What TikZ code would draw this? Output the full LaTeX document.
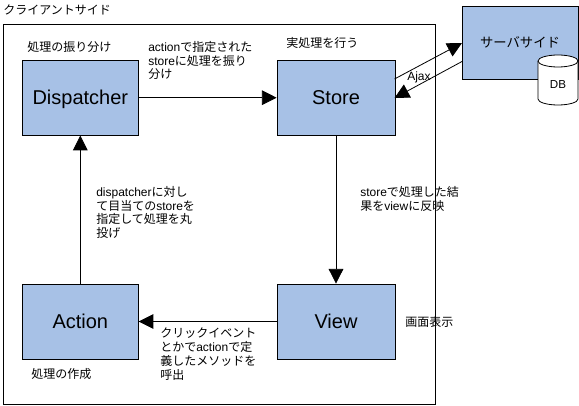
\documentclass[tikz,border=0pt]{standalone}
\usepackage{fontspec}
\setmainfont{Liberation Sans}
\newfontfamily\jpfont{Noto Sans CJK JP}
\newcommand{\J}[1]{{\jpfont #1}}
\usetikzlibrary{arrows.meta}
\definecolor{boxblue}{HTML}{A7C1E6}
\tikzset{
 box/.style={draw=black,fill=boxblue,line width=0.6pt,inner sep=0pt,minimum height=56.25pt,text height=10.7pt,text depth=0pt,font=\fontsize{15pt}{17pt}\selectfont},
 lab/.style={font=\fontsize{9pt}{10.3pt}\selectfont,align=left,anchor=north west,inner sep=0pt},
 conn/.style={draw=black,line width=0.6pt,-{Triangle[length=11pt,width=11pt]}},
}
\begin{document}
\begin{tikzpicture}[x=0.75pt,y=-0.75pt]
\useasboundingbox (0,0) rectangle (579,406);
\node[draw=black,line width=0.6pt,minimum width=324pt,minimum height=285pt,inner sep=0pt] (client) at (219.5,214.5) {};
\node[box,minimum width=87pt] (disp) at (80.3,97.7) {Dispatcher};
\node[box,minimum width=88.5pt] (store) at (336,97.7) {Store};
\node[box,minimum width=87pt] (action) at (80.3,321.5) {Action};
\node[box,minimum width=88.5pt] (view) at (336,321.5) {View};
\node[box,minimum width=87pt,minimum height=55pt,text height=9pt,text depth=1.5pt,font=\fontsize{10pt}{12pt}\selectfont\jpfont] (server) at (520,43) {サーバサイド};
\draw[fill=white,line width=0.6pt] (538,61) -- (538,99) arc[start angle=180,end angle=360,x radius=15pt,y radius=4.5pt] -- (578,61) arc[start angle=0,end angle=180,x radius=15pt,y radius=4.5pt] -- cycle;
\draw[line width=0.6pt] (538,61) arc[start angle=180,end angle=360,x radius=15pt,y radius=4.5pt];
\node[font=\fontsize{8.7pt}{10pt}\selectfont,inner sep=0pt] (dbt) at (558,85) {DB};
\draw[conn] (disp) -- (store);
\draw[conn] (store) -- (view);
\draw[conn] (view) -- (action);
\draw[conn] (action) -- (disp);
\coordinate (s1) at (394.5,79);
\coordinate (s2) at (462,43);
\coordinate (s3) at (462,61.5);
\coordinate (s4) at (394.5,98);
\draw[conn] (s1) -- (s2);
\draw[conn] (s3) -- (s4);
\node[lab] (t0) at (3,4.5) {\J{クライアントサイド}};
\node[lab] (t1) at (27,41) {\J{処理の振り分け}};
\node[lab] (t2) at (148,41) {action\J{で指定された}\\store\J{に処理を振り}\\\J{分け}};
\node[lab] (t3) at (286,37) {\J{実処理を行う}};
\node[lab] (t4) at (407,72) {Ajax};
\node[lab] (t5) at (96,186) {dispatcher\J{に対し}\\\J{て目当ての}store\J{を}\\\J{指定して処理を丸}\\\J{投げ}};
\node[lab] (t6) at (360,186.5) {store\J{で処理した結}\\\J{果を}view\J{に反映}};
\node[lab] (t7) at (405,316) {\J{画面表示}};
\node[lab] (t8) at (160,328) {\J{クリックイベント}\\\J{とかで}action\J{で定}\\\J{義したメソッドを}\\\J{呼出}};
\node[lab] (t9) at (31,368) {\J{処理の作成}};
\end{tikzpicture}
\end{document}
